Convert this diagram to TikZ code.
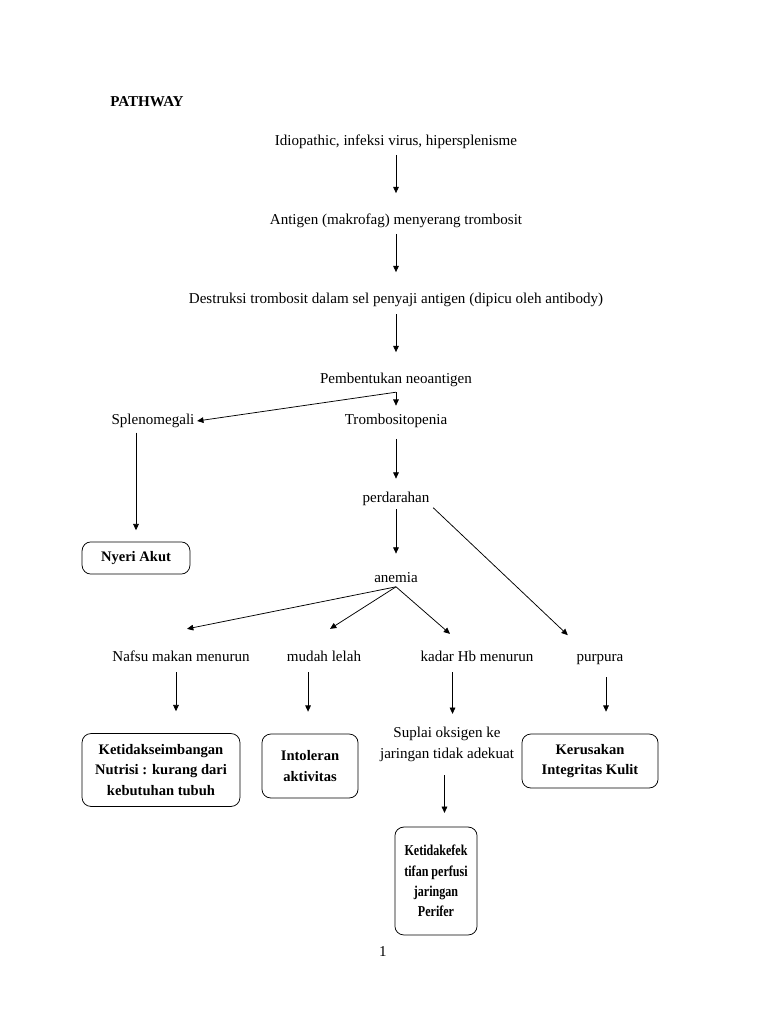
\documentclass[tikz,border=0pt]{standalone}
\usepackage{fontspec}
\setmainfont{Liberation Serif}
\newfontfamily\narrowserif[FakeStretch=0.8]{Liberation Serif}
\usetikzlibrary{arrows.meta,positioning,calc}

\begin{document}
\begin{tikzpicture}[x=0.028cm, y=-0.028cm,
  lbl/.style={inner sep=2pt, text height=1.5ex, text depth=.25ex, font=\fontsize{12}{14}\selectfont},
  dx/.style={draw, rounded corners=7pt, line width=0.6pt, align=center, inner sep=2pt,
             font=\fontsize{11.6}{16}\selectfont\bfseries},
  arr/.style={-{Triangle[length=5pt,width=4.5pt]}, line width=0.6pt}]
\useasboundingbox (0,0) rectangle (768,1024);
\node[font=\fontsize{12}{14}\selectfont\bfseries, anchor=west, inner sep=0pt] (title) at (110,102) {PATHWAY};
\node[lbl] (idio) at (396,142) {Idiopathic, infeksi virus, hipersplenisme};
\node[lbl] (antigen) at (396,221) {Antigen (makrofag) menyerang trombosit};
\node[lbl] (destruksi) at (396,300) {Destruksi trombosit dalam sel penyaji antigen (dipicu oleh antibody)};
\node[lbl] (neo) at (396,380) {Pembentukan neoantigen};
\node[lbl] (spleno) at (153,421) {Splenomegali};
\node[lbl] (trombo) at (396,421) {Trombositopenia};
\node[lbl] (perdarahan) at (396,499) {perdarahan};
\node[lbl] (anemia) at (396,579) {anemia};
\node[lbl] (nafsu) at (181,658) {Nafsu makan menurun};
\node[lbl] (lelah) at (324,658) {mudah lelah};
\node[lbl] (hb) at (477,658) {kadar Hb menurun};
\node[lbl] (purpura) at (600,658) {purpura};
\node[inner sep=2pt, align=center, font=\fontsize{12}{16.7}\selectfont] (suplai) at (447,744)
  {Suplai oksigen ke\\jaringan tidak adekuat};
\node[dx, minimum width=3.02cm, minimum height=0.90cm] (nyeri) at (136,558) {Nyeri Akut};
\node[dx, minimum width=4.42cm, minimum height=2.04cm] (nutrisi) at (161,770)
  {Ketidakseimbangan\\Nutrisi : kurang dari\\kebutuhan tubuh};
\node[dx, minimum width=2.69cm, minimum height=1.79cm] (intoleran) at (310,766) {Intoleran\\aktivitas};
\node[dx, minimum width=3.81cm, minimum height=1.51cm] (kulit) at (590,761) {Kerusakan\\Integritas Kulit};
\node[dx, minimum width=2.30cm, minimum height=3.02cm, font=\fontsize{12}{16.2}\narrowserif\bfseries] (perfusi) at (436,881)
  {Ketidakefek\\tifan perfusi\\jaringan\\Perifer};
\node[font=\fontsize{12}{14}\selectfont] (pagenum) at (383,952) {1};
\coordinate (split) at ([yshift=-3.5pt]neo.south);
\draw[arr, shorten <=4pt, shorten >=16pt] (idio) -- (antigen);
\draw[arr, shorten <=4pt, shorten >=16pt] (antigen) -- (destruksi);
\draw[arr, shorten <=5pt, shorten >=16pt] (destruksi) -- (neo);
\draw[arr, shorten >=6pt] (split) -- (trombo);
\draw[arr] (split) -- (spleno.east);
\draw[arr, shorten <=3pt, shorten >=9pt] (spleno.south -| nyeri.north) -- (nyeri.north);
\draw[arr, shorten <=8pt, shorten >=10pt] (trombo) -- (perdarahan);
\draw[arr, shorten <=2pt, shorten >=14pt] (perdarahan) -- (anemia);
\draw[arr, shorten <=1pt] (perdarahan.south east) -- ([xshift=-4.8pt,yshift=12pt]purpura.north west);
\draw[arr] (anemia.south) -- ([xshift=4.8pt,yshift=17pt]nafsu.north);
\draw[arr] (anemia.south) -- ([xshift=4.8pt,yshift=17pt]lelah.north);
\draw[arr] (anemia.south) -- ([xshift=-21.5pt,yshift=13pt]hb.north);
\draw[arr, shorten <=5pt, shorten >=17.5pt] ([xshift=-4pt]nafsu.south) -- ([xshift=-4pt]nafsu.south |- nutrisi.north);
\draw[arr, shorten <=5pt, shorten >=17.5pt] ([xshift=-12.7pt]lelah.south) -- ([xshift=-12.7pt]lelah.south |- intoleran.north);
\draw[arr, shorten <=5pt, shorten >=8pt] ([xshift=-19.5pt]hb.south) -- ([xshift=-19.5pt]hb.south |- suplai.north);
\draw[arr, shorten <=9pt, shorten >=17.5pt] ([xshift=4.8pt]purpura.south) -- ([xshift=4.8pt]purpura.south |- kulit.north);
\draw[arr, shorten <=9pt, shorten >=11pt] ([xshift=-2pt]suplai.south) -- ([xshift=-2pt]suplai.south |- perfusi.north);
\end{tikzpicture}
\end{document}
